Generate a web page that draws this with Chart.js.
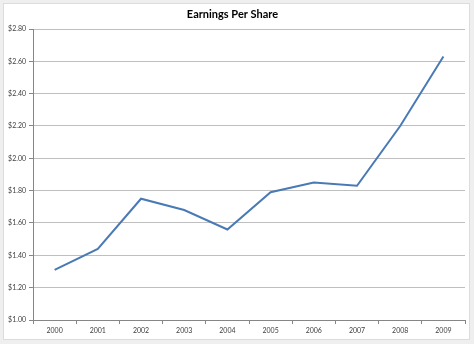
<!DOCTYPE html>
<html>
<head>
<meta charset="utf-8">
<script src="https://cdn.jsdelivr.net/npm/chart.js@4/dist/chart.umd.min.js"></script>
<style>
  html, body { margin: 0; padding: 0; background: #ffffff; }
  #wrap { width: 474px; height: 344px; position: relative; }
</style>
</head>
<body>
<div id="wrap"><canvas id="eps" width="474" height="344"></canvas></div>
<script>
// Earnings per share by year
const years = ['2000', '2001', '2002', '2003', '2004', '2005', '2006', '2007', '2008', '2009'];
const eps = [1.31, 1.44, 1.75, 1.68, 1.56, 1.79, 1.85, 1.83, 2.20, 2.63];
const yMin = 1.00;
const yMax = 2.80;
const yStep = 0.20;

// Light grey frame around a white panel
const framePlugin = {
  id: 'frame',
  beforeDraw(chart) {
    const ctx = chart.ctx;
    ctx.save();
    ctx.fillStyle = '#efefef';
    ctx.fillRect(0, 0, chart.width, chart.height);
    ctx.fillStyle = '#ffffff';
    ctx.fillRect(3, 3, chart.width - 7, chart.height - 7);
    ctx.strokeStyle = '#dcdcdc';
    ctx.lineWidth = 1;
    ctx.strokeRect(3.5, 3.5, chart.width - 8, chart.height - 8);
    ctx.restore();
  }
};

const fontFamily = 'Lato, "Open Sans", sans-serif';

new Chart(document.getElementById('eps'), {
  type: 'line',
  data: {
    labels: years,
    datasets: [{
      label: 'EPS',
      data: eps,
      borderColor: '#4a7ab5',
      borderWidth: 2,
      pointRadius: 0,
      tension: 0,
      fill: false
    }]
  },
  options: {
    responsive: false,
    animation: false,
    devicePixelRatio: 1,
    layout: { padding: { left: 0, right: 9, top: 0, bottom: 0 } },
    plugins: {
      legend: { display: false },
      tooltip: { enabled: false },
      title: {
        display: true,
        text: 'Earnings Per Share',
        color: '#000000',
        font: { family: fontFamily, size: 11, weight: 'bold', lineHeight: 1.2 },
        padding: { top: 8, bottom: 7.8 }
      }
    },
    scales: {
      x: {
        offset: true,
        grid: {
          offset: true,
          drawOnChartArea: false,
          drawTicks: true,
          tickLength: 4,
          color: '#868686'
        },
        border: { display: true, color: '#868686', width: 1 },
        ticks: {
          color: '#404040',
          font: { family: fontFamily, size: 7 },
          padding: 3,
          maxRotation: 0,
          autoSkip: false
        },
        afterFit(scale) { scale.height = 24; }
      },
      y: {
        min: yMin,
        max: yMax,
        grid: {
          color: '#bfbfbf',
          tickColor: '#868686',
          tickLength: 4,
          drawTicks: true
        },
        border: { display: true, color: '#868686', width: 1 },
        ticks: {
          stepSize: yStep,
          color: '#404040',
          font: { family: fontFamily, size: 7 },
          padding: 3,
          callback: (v) => '$' + Number(v).toFixed(2)
        },
        afterFit(scale) { scale.width = 33; }
      }
    }
  },
  plugins: [framePlugin]
});
</script>
</body>
</html>
